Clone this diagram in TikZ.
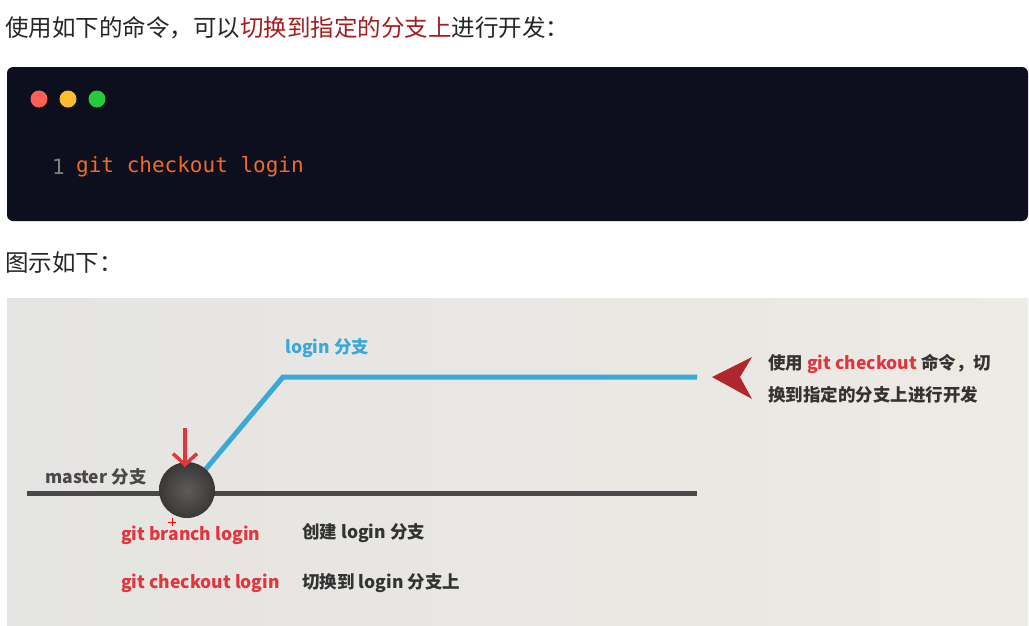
\documentclass[tikz,border=0pt]{standalone}
\usepackage{fontspec}
\usetikzlibrary{arrows.meta}
\setmainfont{Noto Sans CJK SC}
\newfontfamily\codefont{DejaVu Sans Mono}
\definecolor{hred}{HTML}{A51C1C}
\definecolor{codebg}{HTML}{0D0F1E}
\definecolor{corange}{HTML}{F06B2A}
\definecolor{lblue}{HTML}{3AA8D8}
\definecolor{lred}{HTML}{E0363E}
\definecolor{dgray}{HTML}{4A4848}
\definecolor{dotr}{HTML}{FF5F56}
\definecolor{doty}{HTML}{FFBD2E}
\definecolor{dotg}{HTML}{27C93F}
\definecolor{bgl}{HTML}{E4E4E2}
\definecolor{bgr}{HTML}{EEEAE4}
\definecolor{balli}{HTML}{5E5C5A}
\definecolor{ballo}{HTML}{3A3836}
\definecolor{tri}{HTML}{B0262C}
\begin{document}
\begin{tikzpicture}[x=1pt,y=-1pt,
  txt/.style={anchor=west,inner sep=0pt},
  figt/.style={txt,font=\bfseries\fontsize{17.5}{20}\selectfont}]
\useasboundingbox (0,0) rectangle (1029,625);
\fill[white] (0,0) rectangle (1029,625);
\node[txt,font=\fontsize{23.5}{26}\selectfont,text=black!85] (h1) at (5,28) {使用如下的命令，可以\textcolor{hred}{切换到指定的分支上}进行开发：};
\fill[codebg,rounded corners=6] (7,67) rectangle (1028,221);
\fill[dotr] (39,99) circle (8.5);
\fill[doty] (68,99) circle (8.5);
\fill[dotg] (97,99) circle (8.5);
\node[txt,font=\codefont\fontsize{21}{24}\selectfont,text=gray] (ln) at (52,167) {1};
\node[txt,font=\codefont\fontsize{21}{24}\selectfont,text=corange] (code) at (76,167) {git checkout login};
\node[txt,font=\fontsize{23.5}{26}\selectfont,text=black!85] (h2) at (5,263) {图示如下：};
\shade[left color=bgl,right color=bgr] (7,298) rectangle (1028,625);
\coordinate (m0) at (27,493); \coordinate (m1) at (697,493);
\draw[dgray,line width=5] (m0) -- (m1);
\coordinate (b0) at (205,470); \coordinate (b1) at (283,377); \coordinate (b2) at (697,377);
\draw[lblue,line width=5] (b0) -- (b1) -- (b2);
\shade[inner color=balli,outer color=ballo] (187,490) circle (28);
\coordinate (a0) at (185,428);
\coordinate (a1) at (185,467);
\draw[lred,line width=3.5,-{Straight Barb[length=11pt,width=24pt]}] (a0) -- (a1);
\node[figt,text=lblue] (lb) at (285,348) {login 分支};
\node[figt,text=dgray] (mb) at (45,477) {master 分支};
\fill[tri] (712,377) -- (752,357) -- (740,377) -- (752,399) -- cycle;
\node[figt,text=black!80] (r1) at (768,364) {使用 \textcolor{lred}{git checkout} 命令，切};
\node[figt,text=black!80] (r2) at (768,395) {换到指定的分支上进行开发};
\node[figt,text=lred] (g1) at (121,535) {git branch login};
\node[figt,text=black!80] (d1) at (302,533) {创建 login 分支};
\node[figt,text=lred] (g2) at (121,583) {git checkout login};
\node[figt,text=black!80] (d2) at (302,583) {切换到 login 分支上};
\draw[red,line width=1] (168,522) -- (176,522) (172,518) -- (172,526);
\end{tikzpicture}
\end{document}
